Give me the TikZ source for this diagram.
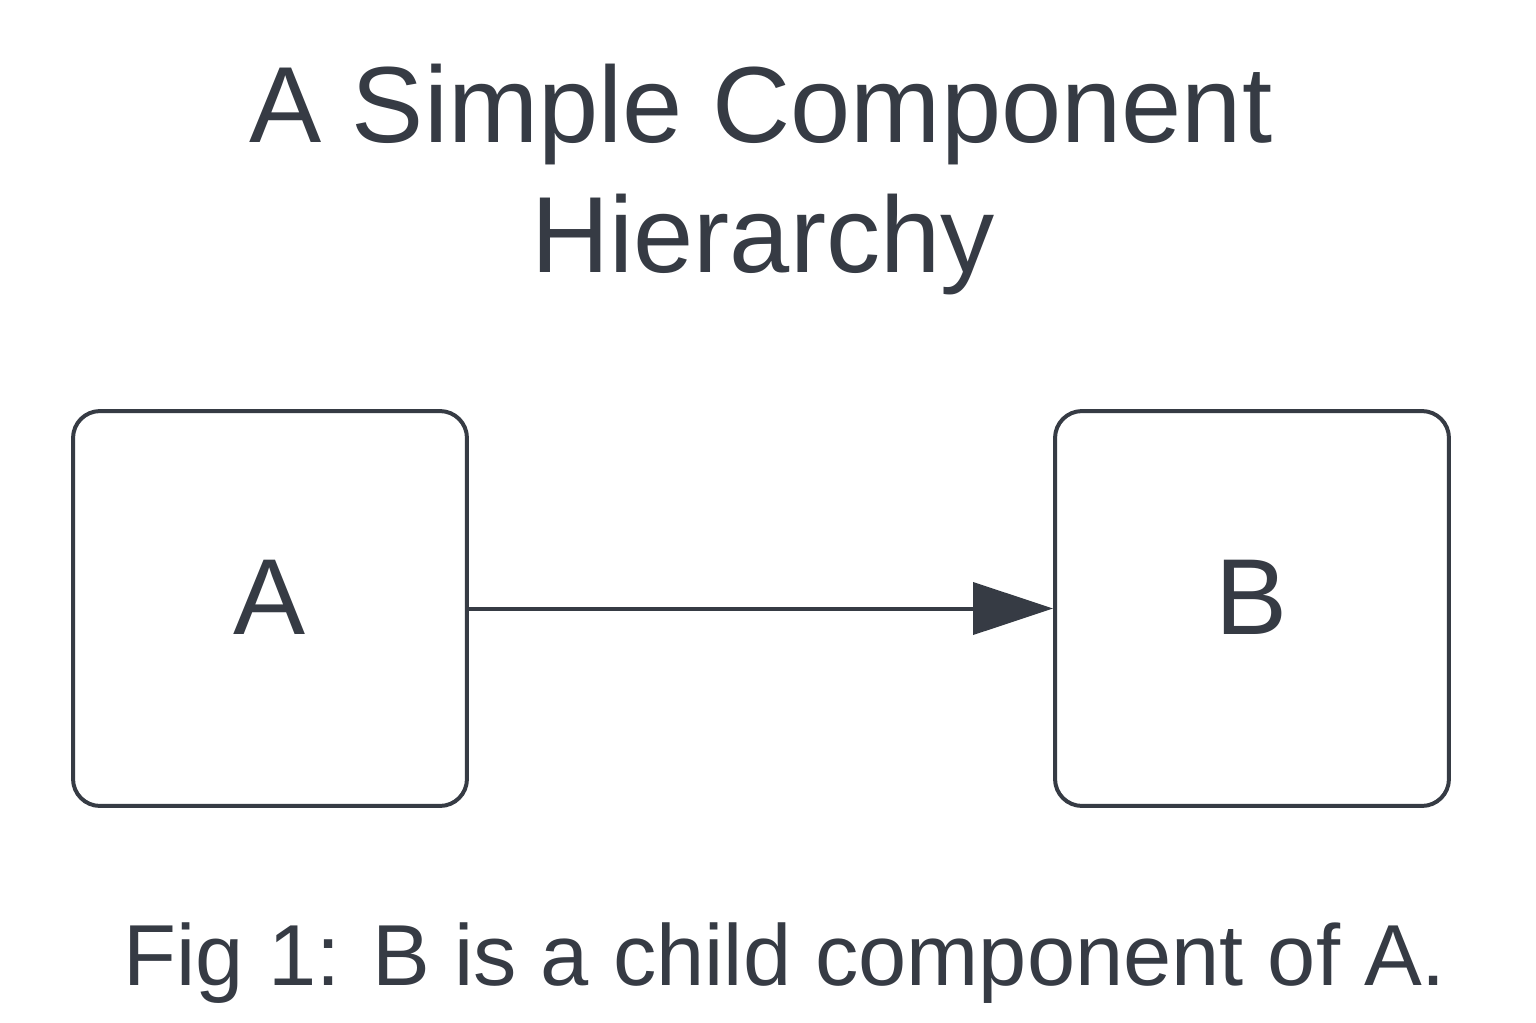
\documentclass[tikz,border=0pt]{standalone}
\usepackage{fontspec}
\setmainfont{Liberation Sans}
\usetikzlibrary{arrows.meta}
\definecolor{ink}{RGB}{54,59,68}
\begin{document}
\begin{tikzpicture}[x=0.02cm,y=-0.02cm,
  box/.style={draw=ink,line width=2.27pt,rounded corners=0.54cm,minimum width=7.88cm,minimum height=7.9cm,inner sep=0pt,font=\fontsize{61.5}{70}\selectfont,text=ink},
  txt/.style={text=ink,inner sep=0pt,anchor=base},
  conn/.style={draw=ink,line width=2.27pt,-{Triangle[length=1.6cm,width=1.04cm]}}]
\useasboundingbox[fill=white] (0,0) rectangle (1536,1022);
\node[txt,font=\fontsize{61.6}{70}\selectfont] (t1) at (761,142) {A Simple Component};
\node[txt,font=\fontsize{61.6}{70}\selectfont] (t2) at (763,272) {Hierarchy};
\node[box] (A) at (270,608.5) {\raisebox{0.46cm}{A}};
\node[box] (B) at (1252,608.5) {\raisebox{0.46cm}{B}};
\draw[conn] (A.east) -- (B.west);
\node[txt,font=\fontsize{49.3}{60}\selectfont] (cap) at (785,985) {Fig 1: B is a child component of A.};
\end{tikzpicture}
\end{document}
